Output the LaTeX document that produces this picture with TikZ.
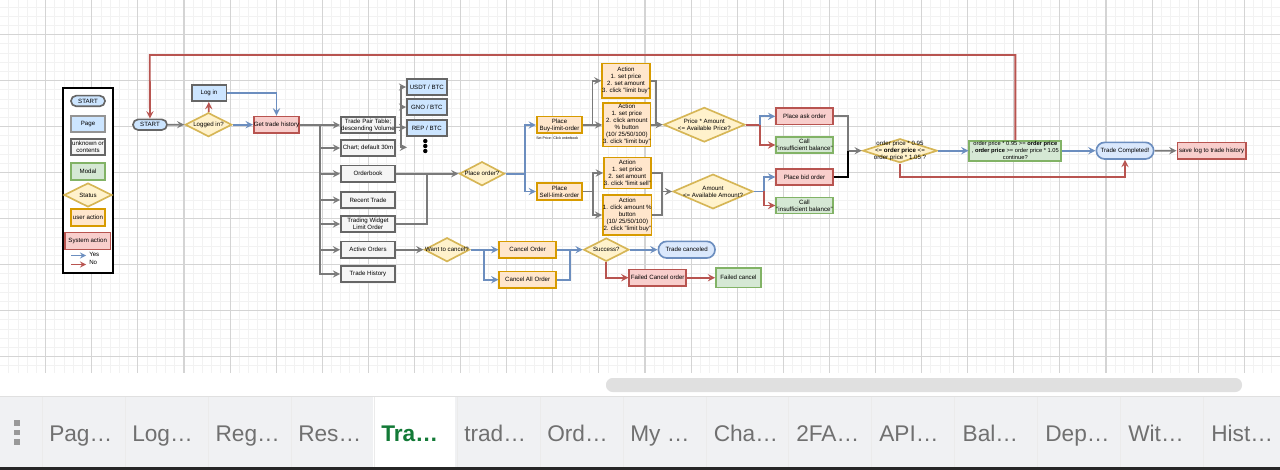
\documentclass[tikz,border=0pt]{standalone}
\usepackage{fontspec}
\setmainfont{Liberation Sans}
\usetikzlibrary{shapes.geometric,shapes.misc}
\definecolor{fillBlue}{HTML}{CCE5FF}
\definecolor{fillSoft}{HTML}{DAE8FC}
\definecolor{lineBlue}{HTML}{6C8EBF}
\definecolor{fillRed}{HTML}{F8CECC}
\definecolor{lineRed}{HTML}{B85450}
\definecolor{fillGreen}{HTML}{D5E8D4}
\definecolor{lineGreen}{HTML}{82B366}
\definecolor{fillYellow}{HTML}{FFF2CC}
\definecolor{lineYellow}{HTML}{D6B656}
\definecolor{fillOrange}{HTML}{FFE6CC}
\definecolor{lineOrange}{HTML}{D79B00}
\definecolor{fillGray}{HTML}{F5F5F5}
\definecolor{lineGray}{HTML}{666666}
\definecolor{flowLine}{HTML}{7A7A7A}
\definecolor{tabBar}{HTML}{F0F1F3}
\definecolor{tabText}{HTML}{707070}
\definecolor{tabActive}{HTML}{137A37}
\tikzset{
  base/.style={draw,line width=1.25pt,inner sep=0pt,align=center},
  every label/.style={align=center,inner sep=0pt},
  pageBox/.style={base,draw=lineGray,fill=fillBlue},
  grayBox/.style={base,draw=lineGray,fill=fillGray,minimum width=40.6pt,minimum height=12.1pt},
  modalBox/.style={base,draw=lineGreen,fill=fillGreen},
  userBox/.style={base,draw=lineOrange,fill=fillOrange},
  systemBox/.style={base,draw=lineRed,fill=fillRed},
  decision/.style={base,diamond,draw=lineYellow,fill=fillYellow},
  pillBox/.style={base,rounded rectangle,minimum width=25.6pt,minimum height=8pt,draw=lineGray,fill=fillBlue},
  pairBox/.style={pageBox,minimum width=29.8pt,minimum height=12pt},
  legendBox/.style={minimum width=25.5pt,minimum height=12.3pt},
  wideBox/.style={minimum width=34.1pt,minimum height=12.5pt},
  longBox/.style={minimum width=42.6pt,minimum height=12.1pt},
  flowGray/.style={color=flowLine,line width=1.4pt},
  flowBlue/.style={color=lineBlue,line width=1.4pt},
  flowRed/.style={color=lineRed,line width=1.4pt},
  gridMinor/.style={draw=black!5,line width=0.75pt},
  gridMajor/.style={draw=black!17,line width=0.8pt},
  tabLabel/.style={anchor=base west,inner sep=0pt,text=tabText,font=\fontsize{17}{20}\selectfont}
}
\begin{document}
\begin{tikzpicture}[x=0.75pt,y=-0.75pt,>=stealth,font=\fontsize{4.6}{5.25}\selectfont]
\useasboundingbox (0,0) rectangle (1280,470);
\fill[white] (0,0) rectangle (1280,470);

\foreach \i in {0,...,138} {\draw[gridMinor] (\i*9.22-0.4,0) -- (\i*9.22-0.4,372.5);}
\foreach \i in {0,...,39} {\draw[gridMinor] (0,7.1+\i*9.2) -- (1280,7.1+\i*9.2);}
\foreach \i in {0,...,27} {\draw[gridMajor] (\i*46.1-0.4,0) -- (\i*46.1-0.4,372.5);}
\foreach \i in {0,...,7} {\draw[gridMajor] (0,34.7+\i*46) -- (1280,34.7+\i*46);}

\node[draw=black,fill=white,line width=1.6pt,minimum width=38pt,minimum height=139pt,inner sep=0pt] (legend) at (88,180.5) {};
\node[pillBox] (legendStart) at (88,101) {START};
\node[pageBox,legendBox,draw=lineGray!70!white] (legendPage) at (88,124) {Page};
\node[grayBox,minimum width=25.5pt,minimum height=12.3pt] (legendUnknown) at (88,147) {unknown or\\contents};
\node[modalBox,legendBox] (legendModal) at (88,171.5) {Modal};
\node[decision,minimum width=36pt,minimum height=18pt,label={center:Status}] (legendStatus) at (88,195) {};
\node[userBox,legendBox] (legendUser) at (88,217.5) {user action};
\node[systemBox,wideBox] (legendSystem) at (87.7,241) {System action};
\coordinate (yesTail) at (71,255.5);
\coordinate (yesHead) at (86,255.5);
\coordinate (noTail) at (71,264.5);
\coordinate (noHead) at (86,264.5);
\node[anchor=west,inner sep=0pt] (yesLabel) at (89,254) {Yes};
\node[anchor=west,inner sep=0pt] (noLabel) at (89,262.5) {No};

\node[pillBox] (start) at (150,124.7) {START};
\node[decision,minimum width=35pt,minimum height=18pt,label={center:Logged in?}] (loggedIn) at (208.5,124.7) {};
\node[pageBox,minimum width=26pt,minimum height=12.2pt] (logIn) at (209,93) {Log in};
\node[systemBox,wideBox] (tradeHistory) at (276.5,124.7) {Get trade history};

\node[grayBox] (pairTable) at (368,125) {Trade Pair Table;\\descending Volume};
\node[grayBox] (chart) at (368,148) {Chart; default 30m};
\node[grayBox] (orderbook) at (368,173.7) {Orderbook};
\node[grayBox] (recentTrade) at (368,200) {Recent Trade};
\node[grayBox] (tradingWidget) at (368,224) {Trading Widget\\Limit Order};
\node[grayBox] (activeOrders) at (368,249.7) {Active Orders};
\node[grayBox] (historyBox) at (368,274) {Trade History};

\node[pairBox] (usdt) at (426.8,87) {USDT / BTC};
\node[pairBox] (gno) at (426.8,107) {GNO / BTC};
\node[pairBox] (rep) at (426.8,128) {REP / BTC};
\foreach \dotName/\dotY in {dotOne/141,dotTwo/146,dotThree/151}
  \node[circle,fill=black,minimum size=3.3pt,inner sep=0pt] (\dotName) at (425.3,\dotY) {};

\node[decision,minimum width=34pt,minimum height=18pt,label={center:Place order?}] (placeOrder) at (482,173.7) {};
\node[userBox,wideBox] (placeBuy) at (559.5,125) {Place\\Buy-limit-order};
\node[inner sep=0pt,font=\fontsize{2.7}{3}\selectfont] (setPrice) at (557.3,138) {Set Price: Click orderbook};
\node[userBox,wideBox] (placeSell) at (559.5,191.5) {Place\\Sell-limit-order};

\node[userBox,minimum width=34pt,minimum height=26pt] (actionOne) at (626,80.7) {Action\\1. set price\\2. set amount\\3. click "limit buy"};
\node[userBox,minimum width=35.3pt,minimum height=32.5pt] (actionTwo) at (626.8,124.7) {Action\\1. set price\\2. click amount\\\% button\\(10/ 25/50/100)\\3. click "limit buy"};
\node[userBox,minimum width=34.5pt,minimum height=23.3pt] (actionThree) at (627.3,173) {Action\\1. set price\\2. set amount\\3. click "limit sell"};
\node[userBox,minimum width=34.5pt,minimum height=30pt] (actionFour) at (627.3,215) {Action\\1. click amount \%\\button\\(10/ 25/50/100)\\2. click "limit buy"};

\node[decision,minimum width=61pt,minimum height=26pt,label={center:Price * Amount\\<= Available Price?}] (priceCheck) at (704.3,124.7) {};
\node[decision,minimum width=60pt,minimum height=26pt,label={center:Amount\\<= Available Amount?}] (amountCheck) at (713,191.5) {};
\node[systemBox,longBox] (askOrder) at (804.5,116.3) {Place ask order};
\node[modalBox,longBox] (callAsk) at (804.5,145) {Call\\"insufficient balance"};
\node[systemBox,longBox] (bidOrder) at (804.5,177) {Place bid order};
\node[modalBox,longBox] (callBid) at (804.5,205.5) {Call\\"insufficient balance"};

\node[decision,minimum width=34pt,minimum height=18pt,label={center:Want to cancel?}] (wantCancel) at (447,249.7) {};
\node[userBox,longBox] (cancelOrder) at (527.7,249.7) {Cancel Order};
\node[userBox,longBox] (cancelAll) at (527.7,279.7) {Cancel All Order};
\node[decision,minimum width=34pt,minimum height=17.5pt,label={center:Success?}] (success) at (606.3,249.7) {};
\node[pillBox,draw=lineBlue,fill=fillSoft,minimum width=42.5pt,minimum height=12.5pt] (tradeCanceled) at (686.7,249.7) {Trade canceled};
\node[systemBox,longBox] (failedOrder) at (657.7,277.7) {Failed Cancel order};
\node[modalBox,minimum width=33.8pt,minimum height=14.5pt] (failedCancel) at (738.5,277.7) {Failed cancel};

\node[decision,minimum width=56pt,minimum height=18pt,label={center:order price * 0.95\\<= \textbf{order price} <=\\order price * 1.05 ?}] (priceRange) at (900,150.7) {};
\node[modalBox,minimum width=69pt,minimum height=15pt,label={[font=\fontsize{4.3}{5.25}\selectfont]center:order price * 0.95 >= \textbf{order price}\\, \textbf{order price} >= order price * 1.05\\continue?}] (rangeCheck) at (1015.3,150.7) {};
\node[pillBox,draw=lineBlue,fill=fillSoft,minimum width=43pt,minimum height=12.5pt] (tradeDone) at (1125,150.7) {Trade Completed!};
\node[systemBox,minimum width=51.5pt,minimum height=12.5pt] (saveLog) at (1211.7,150.7) {save log to trade history};

\coordinate (busMain) at (320,124.7);
\coordinate (busPair) at (401,127.5);
\coordinate (pairMore) at (407,147.3);
\coordinate (pairOut) at (396,127.5);
\coordinate (busWidget) at (426.7,173.7);
\coordinate (busPlace) at (525,173.7);
\coordinate (busBuy) at (592.5,125);
\coordinate (busSell) at (593,191.5);
\coordinate (joinBuy) at (656,124.7);
\coordinate (joinSell) at (661.7,191.5);
\coordinate (splitPrice) at (760,124.7);
\coordinate (splitAmount) at (764,191.5);
\coordinate (joinOrders) at (848.3,150.7);
\coordinate (splitCancel) at (484.3,249.7);
\coordinate (joinCancel) at (570,249.7);
\coordinate (returnTop) at (149.7,55);
\coordinate (returnBottom) at (900,177);

\draw[->,flowBlue,line width=1pt] (yesTail) -- (yesHead);
\draw[->,flowRed,line width=1pt] (noTail) -- (noHead);

\path[->,flowGray]
(start) edge (loggedIn)
(orderbook) edge (placeOrder)
(activeOrders) edge (wantCancel)
(actionTwo) edge (priceCheck)
(joinOrders) edge (priceRange)
(tradeDone) edge (saveLog);

\path[->,flowBlue]
(loggedIn) edge (tradeHistory)
(wantCancel) edge (cancelOrder)
(success) edge (tradeCanceled)
(priceRange) edge (rangeCheck)
(rangeCheck) edge (tradeDone)
(cancelOrder) edge (success);

\path[->,flowRed]
(loggedIn) edge (logIn)
(failedOrder) edge (failedCancel);

\draw[->,flowBlue] (logIn) -| (tradeHistory);
\draw[flowGray] (tradeHistory) -- (busMain);
\draw[->,flowGray] (busMain) |- (chart);
\draw[->,flowGray] (busMain) |- (pairTable);
\draw[->,flowGray] (busMain) |- (orderbook);
\draw[->,flowGray] (busMain) |- (recentTrade);
\draw[->,flowGray] (busMain) |- (tradingWidget);
\draw[->,flowGray] (busMain) |- (activeOrders);
\draw[->,flowGray] (busMain) |- (historyBox);

\draw[flowGray] (pairOut) -- (busPair);
\draw[->,flowGray] (busPair) |- (usdt);
\draw[->,flowGray] (busPair) |- (gno);
\draw[->,flowGray] (busPair) -- (rep.west |- busPair);
\draw[->,flowGray] (busPair) |- (pairMore);
\draw[flowGray] (tradingWidget) -| (busWidget);

\draw[flowBlue] (placeOrder) -- (busPlace);
\draw[->,flowBlue] (busPlace) |- (placeBuy);
\draw[->,flowBlue] (busPlace) |- (placeSell);

\draw[flowGray] (placeBuy) -- (busBuy);
\draw[->,flowGray] (busBuy) |- (actionOne);
\draw[->,flowGray] (busBuy) -- (actionTwo);
\draw[flowGray] (placeSell) -- (busSell);
\draw[->,flowGray] (busSell) |- (actionThree);
\draw[->,flowGray] (busSell) |- (actionFour);

\draw[flowGray] (actionOne) -| (joinBuy);
\draw[flowGray] (actionThree) -| (joinSell);
\draw[flowGray] (actionFour) -| (joinSell);
\draw[->,flowGray] (joinSell) -- (amountCheck);

\draw[flowRed] (priceCheck) -- (splitPrice);
\draw[->,flowBlue] (splitPrice) |- (askOrder);
\draw[->,flowRed] (splitPrice) |- (callAsk);
\draw[flowBlue] (amountCheck) -- (splitAmount);
\draw[->,flowBlue] (splitAmount) |- (bidOrder);
\draw[->,flowRed] (splitAmount) |- (callBid);

\draw[flowGray] (askOrder) -| (joinOrders);
\draw[draw=black,line width=1.6pt] (bidOrder) -| (joinOrders);

\draw[flowBlue] (wantCancel) -- (splitCancel);
\draw[->,flowBlue] (splitCancel) |- (cancelAll);
\draw[flowBlue] (cancelAll) -| (joinCancel);
\draw[->,flowRed] (success) |- (failedOrder);

\draw[->,flowRed] (rangeCheck) |- (returnTop) -- (start);
\draw[->,flowRed] (priceRange) |- (returnBottom) -| (tradeDone);

\fill[white] (0,372.5) rectangle (1280,396.5);
\fill[black!12] (606,378) [rounded corners=5pt] rectangle (1242,392);
\fill[tabBar] (0,396.5) rectangle (1280,467);
\fill[black!12] (0,396) rectangle (1280,397);
\fill[white] (372.6,397) rectangle (455,467);
\foreach \i in {0,...,14} {\draw[draw=black!8,line width=0.75pt] (42.4+\i*82.95,397) -- (42.4+\i*82.95,467);}
\fill[black!85] (0,467) rectangle (1280,470);
\foreach \i in {0,1,2} {\fill[black!40] (14,423+\i*9.5-2.8) rectangle (20,423+\i*9.5+2.8);}
\foreach \tabName/\tabX/\tabTitle in {tabPages/49/Pag…,tabLogin/132/Log…,tabRegister/215.3/Reg…,tabReset/298/Res…,tabOrderbook/464/trad…,tabOrders/547/Ord…,tabMy/630/My …,tabChange/713.5/Cha…,tabTwoFa/796/2FA…,tabApi/879/API…,tabBalance/962.4/Bal…,tabDeposit/1045/Dep…,tabWithdraw/1128/Wit…,tabHistory/1211/Hist…}
  \node[tabLabel] (\tabName) at (\tabX,441) {\tabTitle};
\node[tabLabel,text=tabActive,font=\fontsize{17}{20}\selectfont\bfseries] (tabTrade) at (381,441) {Tra…};
\end{tikzpicture}
\end{document}
